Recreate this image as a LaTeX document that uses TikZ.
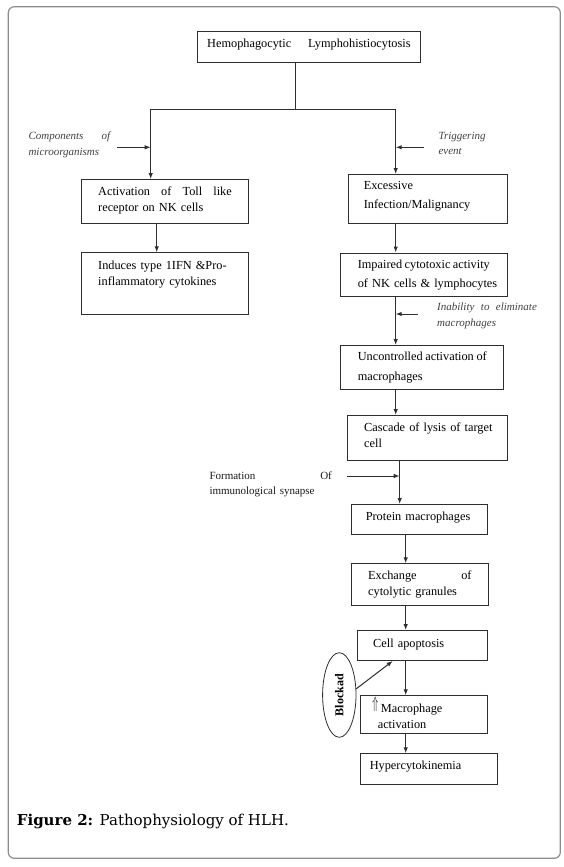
\documentclass[tikz,border=0pt]{standalone}
\usepackage{fontspec}
\setmainfont{Liberation Serif}
\newfontfamily\capfont{DejaVu Serif}
\usepackage{graphicx}
\usetikzlibrary{shapes.geometric,arrows.meta}
\definecolor{linecol}{HTML}{2E2E2E}
\definecolor{framecol}{HTML}{8C8C8C}
\definecolor{notecol}{HTML}{404040}

\begin{document}
\begin{tikzpicture}[x=1pt,y=-1pt]
\tikzset{box/.style = {draw=linecol, line width=1pt, anchor=north west, inner ysep=0pt, align=left, text=black, font=\fontsize{12.3}{15.6}\selectfont}}
\tikzset{note/.style = {anchor=base west, inner sep=0pt, align=left, text=notecol, font=\fontsize{11}{15.7}\selectfont\itshape}}
\tikzset{flow/.style = {draw=linecol, line width=1pt, -{Latex[length=6pt,width=4.5pt]}}}
\useasboundingbox (0,0) rectangle (564,867);
\draw[framecol, line width=1.2pt, rounded corners=6pt] (8.3,6.7) rectangle (560.3,858.3);
% boxes
\node[box, text width=203.4pt, inner xsep=9.4pt, text height=15.8pt, text depth=14.9pt] (hlh) at (197.3,31) {Hemophagocytic\hfill Lymphohistiocytosis};
\node[box, text width=133.6pt, inner xsep=17pt, text height=16.2pt, text depth=27.5pt] (toll) at (80.7,179) {Activation\hfill of\hfill Toll\hfill like\\receptor on NK cells};
\node[box, font=\fontsize{12.3}{16}\selectfont, text width=133.6pt, inner xsep=17pt, text height=16.2pt, text depth=45.8pt] (ifn) at (80.7,252.3) {\mbox{Induces type 1IFN \&Pro-}\\inflammatory cytokines};
\node[box, font=\fontsize{12.3}{19.3}\selectfont, text width=127.8pt, inner xsep=15.6pt, text height=14.5pt, text depth=34.2pt] (excess) at (347.7,174) {Excessive\\Infection/Malignancy};
\node[box, font=\fontsize{12.3}{19.3}\selectfont, text width=132pt, inner xsep=17.3pt, text height=15pt, text depth=28.5pt] (impair) at (340,252.5) {Impaired\hfill cytotoxic\hfill activity\\\mbox{of NK cells \& lymphocytes}};
\node[box, font=\fontsize{12.3}{19.3}\selectfont, text width=129pt, inner xsep=17pt, text height=15.2pt, text depth=29.1pt] (uncontrol) at (340.3,345) {Uncontrolled\hfill activation\hfill of\\macrophages};
\node[box, font=\fontsize{12.3}{16}\selectfont, text width=126.3pt, inner xsep=16.7pt, text height=15.8pt, text depth=29.2pt] (cascade) at (347,415) {\mbox{Cascade of lysis of target}\\cell};
\node[box, text width=108pt, inner xsep=14pt, text height=16.2pt, text depth=13.8pt] (protein) at (351.3,504) {Protein macrophages};
\node[box, font=\fontsize{12.3}{15.3}\selectfont, text width=103.3pt, inner xsep=16.7pt, text height=15.9pt, text depth=26.1pt] (exchange) at (351,563.3) {Exchange\hfill of\\cytolytic granules};
\node[box, text width=98.6pt, inner xsep=16pt, text height=16.8pt, text depth=13.2pt] (apoptosis) at (356.7,630) {Cell apoptosis};
\node[box, font=\fontsize{12.3}{15.7}\selectfont, text width=103.9pt, inner xsep=11.7pt, text height=16.5pt, text depth=20.9pt] (macro) at (360,695.3) {\raisebox{4pt}{\scalebox{0.85}[1.4]{$\Uparrow$}}\hspace{2.5pt}Macrophage\\\hspace*{5.6pt}activation};
\node[box, text width=118.1pt, inner xsep=9.3pt, text height=15.9pt, text depth=14.8pt] (hyper) at (360,753.3) {Hypercytokinemia};
\node[draw=linecol, line width=0.8pt, ellipse, minimum width=33.4pt, minimum height=84.6pt, inner sep=0pt, font=\fontsize{12}{14}\selectfont\bfseries] (blockad) at (339.3,695) {\rotatebox{90}{Blockad}};
% side labels
\node[note, text width=81.7pt] (comp) at (28.3,139.5) {Components\hfill of\\microorganisms};
\node[note, text width=60pt, font=\fontsize{11}{14.7}\selectfont\itshape] (trig) at (438.3,139.5) {Triggering\\event};
\node[note, text width=99.7pt, font=\fontsize{11}{16.6}\selectfont\itshape] (inab) at (437,310.2) {Inability\hfill to\hfill eliminate\\macrophages};
\node[note, text=black!90, text width=122.4pt, font=\fontsize{11}{15}\selectfont] (form) at (209.3,479.5) {Formation\hfill Of\\immunological synapse};
\node[anchor=base west, inner sep=0pt, font=\capfont\fontsize{15}{17}\selectfont] (caption) at (16.7,825) {\textbf{Figure 2:} Pathophysiology of HLH.};
% connectors
\coordinate (split) at (295.3,109);
\coordinate (lsplit) at (150.7,109);
\coordinate (rsplit) at (395.7,109);
\coordinate (lcol) at (156.7,0);
\coordinate (rcol) at (395.7,0);
\coordinate (mcol) at (399.7,0);
\coordinate (bcol) at (405.7,0);
\draw[flow, -] (hlh.south -| split) -- (split);
\draw[flow, -] (lsplit) -- (rsplit);
\draw[flow] (lsplit) -- (lsplit |- toll.north);
\draw[flow] (rsplit) -- (rsplit |- excess.north);
\draw[flow] (toll.south -| lcol) -- (ifn.north -| lcol);
\draw[flow] (excess.south -| rcol) -- (impair.north -| rcol);
\draw[flow] (impair.south -| rcol) -- (uncontrol.north -| rcol);
\draw[flow] (uncontrol.south -| rcol) -- (cascade.north -| rcol);
\draw[flow] (cascade.south -| mcol) -- (protein.north -| mcol);
\draw[flow] (protein.south -| bcol) -- (exchange.north -| bcol);
\draw[flow] (exchange.south -| bcol) -- (apoptosis.north -| bcol);
\draw[flow] (apoptosis.south -| bcol) -- (macro.north -| bcol);
\draw[flow] (macro.south -| bcol) -- (hyper.north -| bcol);
\draw[flow] (blockad.20) -- ([xshift=36pt]apoptosis.south west);
% side arrows
\coordinate (compin) at (117.3,147.3);
\coordinate (trigin) at (424,147.3);
\coordinate (inabin) at (418,314);
\coordinate (formin) at (346.7,476);
\draw[flow] (compin) -- (compin -| lsplit);
\draw[flow] (trigin) -- (trigin -| rsplit);
\draw[flow] (inabin) -- (inabin -| rcol);
\draw[flow] (formin) -- (formin -| mcol);
\end{tikzpicture}
\end{document}
